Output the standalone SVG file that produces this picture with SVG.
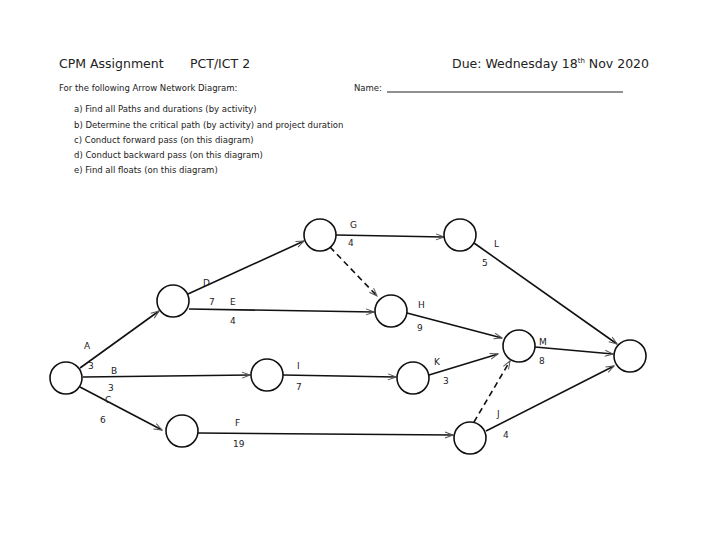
<svg xmlns="http://www.w3.org/2000/svg" width="701" height="539" viewBox="0 0 701 539">
<style>
text{font-family:"DejaVu Sans","Liberation Sans",sans-serif;fill:#222}
.h{font-size:12.5px}
.b{font-size:8.5px}
.l{font-size:9px}
circle{fill:#fff;stroke:#111;stroke-width:1.6}
.e{stroke:#111;stroke-width:1.6;fill:none}
.d{stroke-dasharray:6,4}
</style>
<defs>
<marker id="ar" markerWidth="10" markerHeight="8" refX="9" refY="4" orient="auto" markerUnits="userSpaceOnUse">
<path d="M1,1 L9,4 L1,7" fill="none" stroke="#555" stroke-width="1"/>
</marker>
</defs>
<rect width="701" height="539" fill="#fff"/>
<g id="header">
<text class="h" x="59" y="68">CPM Assignment</text>
<text class="h" x="190" y="68">PCT/ICT 2</text>
<text class="h" x="452" y="68">Due: Wednesday 18<tspan font-size="7" dy="-5">th</tspan><tspan dy="5"> Nov 2020</tspan></text>
<text class="b" x="59" y="91">For the following Arrow Network Diagram:</text>
<text class="b" x="354" y="91">Name:</text>
<line x1="387" y1="92" x2="623" y2="92" stroke="#222" stroke-width="1"/>
<text class="b" x="74" y="112">a)  Find all Paths and durations (by activity)</text>
<text class="b" x="74" y="128">b)  Determine the critical path (by activity) and project duration</text>
<text class="b" x="74" y="143">c)  Conduct forward pass (on this diagram)</text>
<text class="b" x="74" y="158">d)  Conduct backward pass (on this diagram)</text>
<text class="b" x="74" y="173">e)  Find all floats (on this diagram)</text>
</g>
<g id="connectors">
<line class="e" x1="80" y1="368" x2="159" y2="311" marker-end="url(#ar)"/>
<line class="e" x1="83" y1="377" x2="250" y2="375" marker-end="url(#ar)"/>
<line class="e" x1="80" y1="387" x2="162" y2="430" marker-end="url(#ar)"/>
<line class="e" x1="188" y1="294" x2="304" y2="241" marker-end="url(#ar)"/>
<line class="e" x1="189" y1="309" x2="374" y2="312" marker-end="url(#ar)"/>
<line class="e" x1="336" y1="235" x2="444" y2="237" marker-end="url(#ar)"/>
<line class="e d" x1="330" y1="247" x2="377" y2="296" marker-end="url(#ar)"/>
<line class="e" x1="407" y1="313" x2="502" y2="338" marker-end="url(#ar)"/>
<line class="e" x1="283" y1="375" x2="396" y2="377" marker-end="url(#ar)"/>
<line class="e" x1="429" y1="375" x2="498" y2="354" marker-end="url(#ar)"/>
<line class="e d" x1="474" y1="422" x2="510" y2="361" marker-end="url(#ar)"/>
<line class="e" x1="535" y1="347" x2="613" y2="354" marker-end="url(#ar)"/>
<line class="e" x1="474" y1="243" x2="617" y2="344" marker-end="url(#ar)"/>
<line class="e" x1="198" y1="433" x2="453" y2="435" marker-end="url(#ar)"/>
<line class="e" x1="486" y1="431" x2="614" y2="366" marker-end="url(#ar)"/>
</g>
<g id="labels" class="l">
<text class="l" x="84" y="349">A</text><text class="l" x="88" y="369">3</text>
<text class="l" x="111" y="374">B</text><text class="l" x="108" y="391">3</text>
<text class="l" x="105" y="403">C</text><text class="l" x="100" y="423">6</text>
<text class="l" x="203" y="286">D</text><text class="l" x="209" y="305">7</text>
<text class="l" x="230" y="305">E</text><text class="l" x="230" y="324">4</text>
<text class="l" x="350" y="228">G</text><text class="l" x="348" y="246">4</text>
<text class="l" x="494" y="247">L</text><text class="l" x="482" y="266">5</text>
<text class="l" x="418" y="308">H</text><text class="l" x="417" y="331">9</text>
<text class="l" x="297" y="369">I</text><text class="l" x="296" y="390">7</text>
<text class="l" x="434" y="365">K</text><text class="l" x="443" y="384">3</text>
<text class="l" x="539" y="345">M</text><text class="l" x="539" y="364">8</text>
<text class="l" x="497" y="417">J</text><text class="l" x="503" y="438">4</text>
<text class="l" x="235" y="426">F</text><text class="l" x="233" y="447">19</text>
</g>
<g id="n1"><circle cx="66" cy="378" r="16"/></g>
<g id="n2"><circle cx="173" cy="301" r="16"/></g>
<g id="n3"><circle cx="320" cy="235" r="16"/></g>
<g id="n4"><circle cx="460" cy="235" r="16"/></g>
<g id="n5"><circle cx="391" cy="311" r="16"/></g>
<g id="n6"><circle cx="267" cy="375" r="16"/></g>
<g id="n7"><circle cx="413" cy="378" r="16"/></g>
<g id="n8"><circle cx="519" cy="346" r="16"/></g>
<g id="n9"><circle cx="630" cy="356" r="16"/></g>
<g id="n10"><circle cx="182" cy="431" r="16"/></g>
<g id="n11"><circle cx="470" cy="438" r="16"/></g>
</svg>
